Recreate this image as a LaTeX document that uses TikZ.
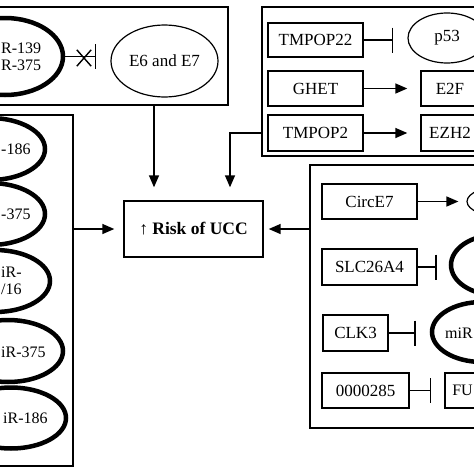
\documentclass[tikz,border=0pt]{standalone}
\usepackage{fontspec}
\setmainfont{Liberation Serif}
\usetikzlibrary{shapes.geometric}
\usetikzlibrary{shapes.misc}
\usetikzlibrary{arrows.meta}

\begin{document}
\begin{tikzpicture}[x=1pt, y=-1pt, font=\fontsize{17}{17}\selectfont,
  group/.style={rectangle, draw, line width=2.4pt, inner sep=0pt},
  gene/.style={rectangle, draw, line width=1.4pt, inner sep=0pt, minimum height=35pt},
  mirna/.style={ellipse, draw, line width=4.5pt, inner sep=0pt},
  prot/.style={ellipse, draw, line width=1.2pt, inner sep=0pt},
  lbl/.style={inner sep=0pt, align=left, font=\fontsize{16}{17}\selectfont},
  act/.style={line width=1.5pt, -{Triangle[length=12pt, width=10pt]}},
  inh/.style={line width=1.5pt, -{Bar[width=25pt]}}]
\useasboundingbox (0,0) rectangle (474,474);
\clip (0,0) rectangle (474,474);

\node[group, minimum width=248pt, minimum height=98pt] (hpvbox) at (104,56) {};
\node[group, minimum width=93pt, minimum height=351pt] (mirbox) at (26.5,290.5) {};
\node[group, minimum width=228pt, minimum height=149pt] (lncbox) at (376,81.5) {};
\node[group, minimum width=180pt, minimum height=263pt] (circbox) at (400,296.5) {};

\node[mirna, minimum width=116pt, minimum height=77pt] (m139) at (5,56.5) {};
\node[lbl, anchor=west] (m139txt) at (1,56.5) {R-139\\R-375};
\node[cross out, draw, line width=1.4pt, minimum width=13pt, minimum height=15pt, inner sep=0pt] (cut) at (84,58) {};
\node[prot, minimum width=107pt, minimum height=72pt] (e6) at (164.5,61) {E6 and E7};
\draw[inh, shorten >=14pt] (m139.east) -- (m139.east -| e6.west);

\node[mirna, minimum width=110pt, minimum height=62pt] (m186a) at (-10,149) {};
\node[mirna, minimum width=110pt, minimum height=62pt] (m375a) at (-10,214) {};
\node[mirna, minimum width=110pt, minimum height=62pt] (m16) at (-5,281) {};
\node[mirna, minimum width=110pt, minimum height=62pt] (m375b) at (8,351) {};
\node[mirna, minimum width=110pt, minimum height=61pt] (m186b) at (11,418) {};
\node[lbl, anchor=west] (m186atxt) at (1,149) {-186};
\node[lbl, anchor=west] (m375atxt) at (1,214) {-375};
\node[lbl, anchor=west] (m16txt) at (1,281) {iR-\\/16};
\node[lbl, anchor=west] (m375btxt) at (1,352) {iR-375};
\node[lbl, anchor=west] (m186btxt) at (3,418) {iR-186};

\node[gene, minimum width=139pt, minimum height=56pt, font=\fontsize{17.5}{17.5}\selectfont\bfseries] (risk) at (193.5,229) {{\mdseries ↑} Risk of UCC};

\node[gene, minimum width=95pt, minimum height=34pt] (tmpop22) at (315.5,40) {TMPOP22};
\node[prot, minimum width=78pt, minimum height=50pt] (p53) at (447,38) {p53};
\node[gene, minimum width=95pt] (ghet) at (315.5,88.5) {GHET};
\node[gene, minimum width=58pt] (e2f) at (450,88.5) {E2F};
\node[gene, minimum width=95pt, minimum height=36pt] (tmpop2) at (315.5,133) {TMPOP2};
\node[gene, minimum width=58pt, minimum height=36pt] (ezh2) at (450,133) {EZH2};
\draw[inh, shorten >=14pt] (tmpop22.east) -- (tmpop22.east -| p53.west);
\draw[act, shorten >=13pt] (ghet) -- (e2f);
\draw[act, shorten >=13pt] (tmpop2) -- (ezh2);

\node[gene, minimum width=95pt] (circe7) at (369.5,201.5) {CircE7};
\node[prot, minimum width=80pt, minimum height=32pt] (tgt1) at (507,201.5) {};
\node[gene, minimum width=95pt, minimum height=36pt] (slc) at (369.5,267) {SLC26A4};
\node[mirna, minimum width=90pt, minimum height=60pt] (tgt2) at (496,265) {};
\node[gene, minimum width=65pt, minimum height=36pt] (clk3) at (355.5,333) {CLK3};
\node[mirna, minimum width=100pt, minimum height=60pt] (tgt3) at (482,332) {};
\node[lbl, anchor=east] (tgt3txt) at (473,333) {miR};
\node[gene, minimum width=87pt] (c285) at (365.5,390.5) {0000285};
\node[gene, minimum width=65pt] (fu) at (477.5,390.5) {};
\node[lbl, anchor=east] (futxt) at (473,390.5) {FU};
\draw[act, shorten >=8pt] (circe7) -- (tgt1);
\draw[inh, shorten >=12pt] (slc.east) -- (slc.east -| tgt2.west);
\draw[inh, shorten >=14pt] (clk3.east) -- (clk3.east -| tgt3.west);
\draw[inh, shorten >=13pt] (c285) -- (fu);

\draw[act, shorten >=13pt] ([xshift=-39.5pt]risk.north |- hpvbox.south) -- ([xshift=-39.5pt]risk.north);
\draw[act, shorten >=13pt] (tmpop2.west -| lncbox.west) -| ([xshift=36.5pt]risk.north);
\draw[act, shorten >=9pt] (risk.west -| mirbox.east) -- (risk.west);
\draw[act, shorten >=5pt] (risk.east -| circbox.west) -- (risk.east);
\end{tikzpicture}
\end{document}
